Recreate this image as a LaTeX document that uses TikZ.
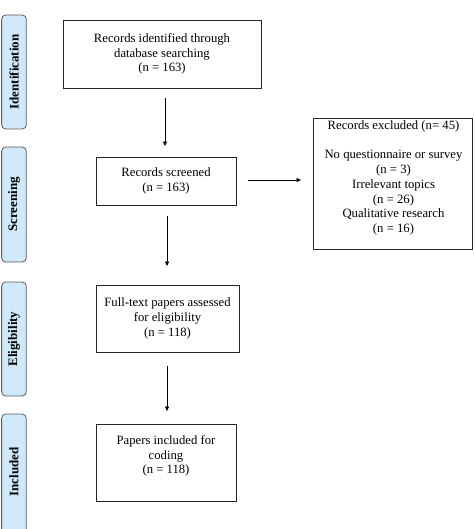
\documentclass[tikz,border=0pt]{standalone}
\usepackage{fontspec}
\setmainfont{Liberation Serif}
\usetikzlibrary{arrows.meta}
\definecolor{barblue}{HTML}{CFE8FA}
\definecolor{barline}{HTML}{5A5A5A}
\begin{document}
\begin{tikzpicture}[x=1pt,y=-1pt,
 box/.style={draw=black!85, line width=0.9pt, inner sep=0pt, align=center,
   font=\fontsize{12.7}{14.7}\selectfont},
 txt/.style={align=center, font=\fontsize{12.7}{14.7}\selectfont, inner sep=0pt},
 phase/.style={rounded corners=4pt, fill=barblue, draw=barline, line width=0.8pt, inner sep=0pt, minimum width=24.5pt},
 ptxt/.style={rotate=90, font=\bfseries\fontsize{13}{15}\selectfont, inner sep=0pt},
 arr/.style={-{Latex[length=5pt,width=4.5pt]}, line width=0.8pt, draw=black}]
\path[use as bounding box] (0,0) rectangle (474,529);

% phase bars
\node[phase, minimum height=114pt] (p1) at (14,72) {};
\node[phase, minimum height=115pt] (p2) at (14,204.5) {};
\node[phase, minimum height=114pt] (p3) at (14,339) {};
\node[phase, minimum height=140pt] (p4) at (14,484) {};
\foreach \p in {p1,p2,p3,p4}{
  \draw[barline, line width=1.6pt] ([yshift=-4pt]\p.north west) -- ([yshift=4pt]\p.south west);
}
\node[ptxt] (l1) at (p1.center) {Identification};
\node[ptxt] (l2) at (p2.center) {Screening};
\node[ptxt] (l3) at (p3.center) {Eligibility};
\node[ptxt] (l4) at (14,472) {Included};

% boxes
\node[box, minimum width=198pt, minimum height=68pt] (b1) at (162,54)
  {Records identified through\\database searching\\(n = 163)};
\node[box, minimum width=140pt, minimum height=48pt] (b2) at (166,181)
  {Records screened\\(n = 163)};
\node[box, minimum width=159.5pt, minimum height=131pt] (ex) at (392.75,183.5) {};
\node[txt] (ext) at (393.5,178)
  {Records excluded (n= 45)\\[14.5pt]No questionnaire or survey\\(n = 3)\\Irrelevant topics\\(n = 26)\\Qualitative research\\(n = 16)};
\node[box, minimum width=143pt, minimum height=67pt] (b3) at (167.5,318.5)
  {Full-text papers assessed\\for eligibility\\(n = 118)};
\node[box, minimum width=140pt, minimum height=77pt] (b4) at (166,462.5) {};
\node[txt] (b4t) at (166,456) {Papers included for\\coding\\(n = 118)};

% arrows
\draw[arr, shorten <=10pt, shorten >=10pt] (b1.south -| 165,0) -- (b2.north -| 165,0);
\draw[arr, shorten <=11pt, shorten >=18pt] (b2.south -| 167,0) -- (b3.north -| 167,0);
\draw[arr, shorten <=14pt, shorten >=12pt] (b3.south -| 167,0) -- (b4.north -| 167,0);
\draw[arr, shorten <=12pt, shorten >=11pt] (b2.east |- 0,180) -- (ex.west |- 0,180);
\end{tikzpicture}
\end{document}
